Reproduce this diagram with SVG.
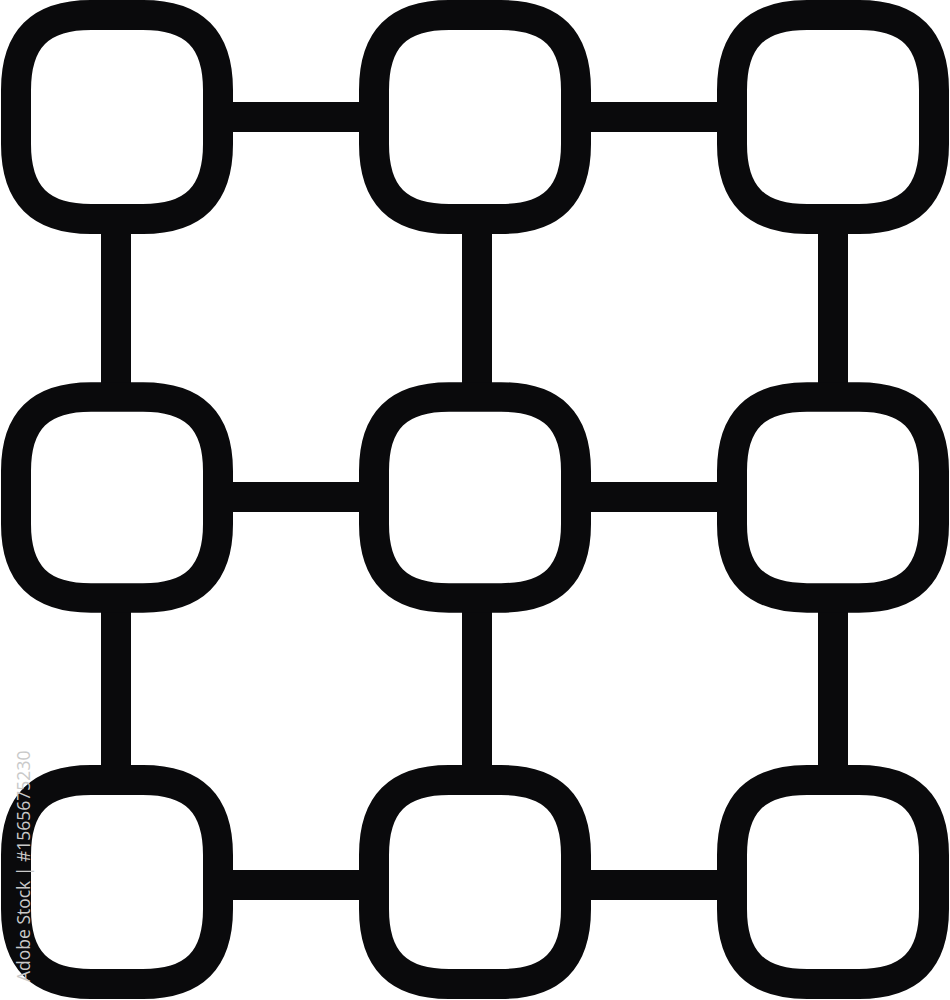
<svg xmlns="http://www.w3.org/2000/svg" xmlns:xlink="http://www.w3.org/1999/xlink" width="950" height="1000" viewBox="0 0 950 1000">
<style>
.node{fill:#ffffff;stroke:#0a0a0c;stroke-width:30}
.conn{stroke:#0a0a0c;stroke-width:30;fill:none}
.wm{font-family:"Open Sans","Liberation Sans",sans-serif;font-size:17.5px;fill:#c9c9c9}
</style>
<defs>
<path id="sq" d="M75,0 H127 C178,0 202,24 202,75 V129 C202,180 178,204 127,204 H75 C24,204 0,180 0,129 V75 C0,24 24,0 75,0 Z"/>
</defs>
<rect width="950" height="1000" fill="#ffffff"/>
<g id="connectors">
<line class="conn" x1="217" y1="117" x2="374" y2="117"/>
<line class="conn" x1="576" y1="117" x2="732" y2="117"/>
<line class="conn" x1="217" y1="497" x2="374" y2="497"/>
<line class="conn" x1="576" y1="497" x2="732" y2="497"/>
<line class="conn" x1="217" y1="885" x2="374" y2="885"/>
<line class="conn" x1="576" y1="885" x2="732" y2="885"/>
<line class="conn" x1="116" y1="219" x2="116" y2="398"/>
<line class="conn" x1="116" y1="599" x2="116" y2="780"/>
<line class="conn" x1="477" y1="219" x2="477" y2="398"/>
<line class="conn" x1="477" y1="599" x2="477" y2="780"/>
<line class="conn" x1="833" y1="219" x2="833" y2="398"/>
<line class="conn" x1="833" y1="599" x2="833" y2="780"/>
</g>
<g id="n11"><use xlink:href="#sq" href="#sq" class="node" transform="translate(16,15)"/></g>
<g id="n12"><use xlink:href="#sq" href="#sq" class="node" transform="translate(374,15)"/></g>
<g id="n13"><use xlink:href="#sq" href="#sq" class="node" transform="translate(732,15)"/></g>
<g id="n21"><use xlink:href="#sq" href="#sq" class="node" transform="translate(16,397) scale(1,0.985)"/></g>
<g id="n22"><use xlink:href="#sq" href="#sq" class="node" transform="translate(374,397) scale(1,0.985)"/></g>
<g id="n23"><use xlink:href="#sq" href="#sq" class="node" transform="translate(732,397) scale(1,0.985)"/></g>
<g id="n31"><use xlink:href="#sq" href="#sq" class="node" transform="translate(16,780)"/></g>
<g id="n32"><use xlink:href="#sq" href="#sq" class="node" transform="translate(374,780)"/></g>
<g id="n33"><use xlink:href="#sq" href="#sq" class="node" transform="translate(732,780)"/></g>
<text class="wm" transform="translate(30,982) rotate(-90)">Adobe Stock | #1565675230</text>
</svg>
